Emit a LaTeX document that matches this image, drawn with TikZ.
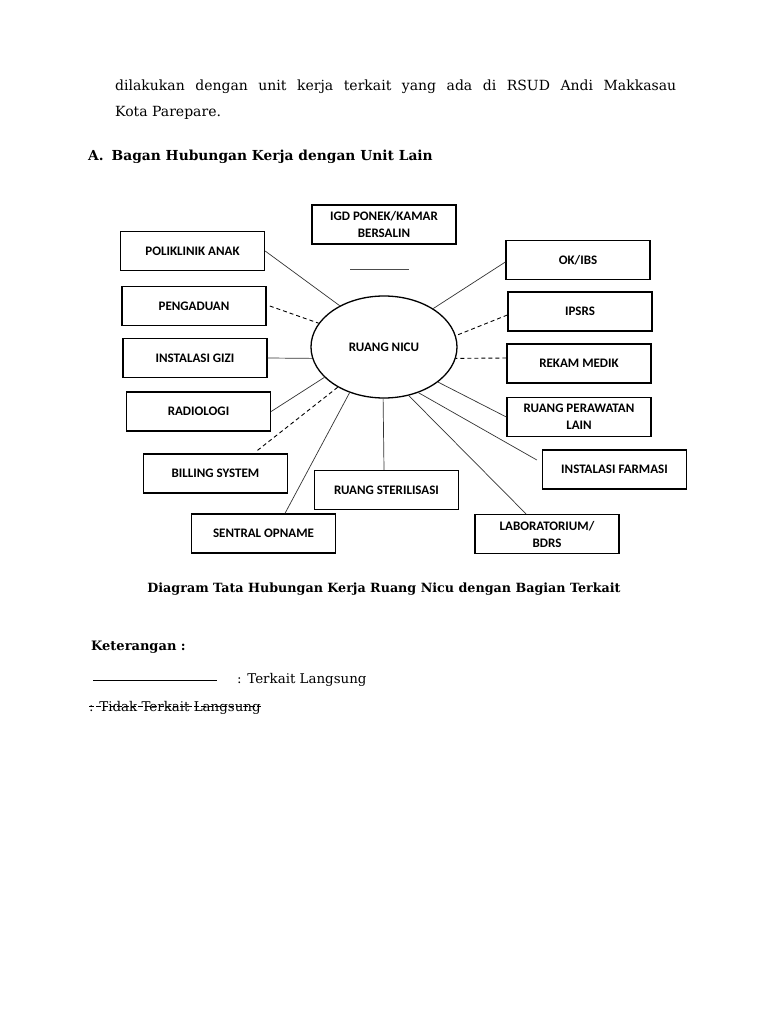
\documentclass[tikz,border=0pt]{standalone}
\usepackage{fontspec}
\setmainfont{DejaVu Serif}
\newfontfamily\boxfont{Carlito}
\usetikzlibrary{shapes.geometric}
\tikzset{
  unitbox/.style={draw, line width=1.3pt, minimum width=144pt, minimum height=39pt, inner sep=0pt, align=center, font=\boxfont\bfseries\fontsize{13}{15}\selectfont},
  solidlink/.style={line width=0.7pt, draw=black!80},
  dashlink/.style={line width=0.9pt, dash pattern=on 4pt off 3pt},
  bodytext/.style={inner sep=0pt, anchor=west, font=\fontsize{14}{17}\selectfont},
  boldtext/.style={inner sep=0pt, font=\bfseries\fontsize{13}{16}\selectfont}
}
\begin{document}
\begin{tikzpicture}[x=1pt, y=-1pt]
\useasboundingbox (0,0) rectangle (768,1024);
\fill[white] (0,0) rectangle (768,1024);

% text above
\node[bodytext] (l1) at (115,87) {\makebox[561pt][s]{dilakukan dengan unit kerja terkait yang ada di RSUD Andi Makkasau}};
\node[bodytext] (l2) at (115,113) {Kota Parepare.};
\node[boldtext, anchor=west, font=\bfseries\fontsize{13.8}{16}\selectfont] (head) at (88,157) {A.\hspace{8pt}Bagan Hubungan Kerja dengan Unit Lain};

% central ellipse
\node[draw, ellipse, line width=1.3pt, minimum width=146pt, minimum height=102pt, inner sep=0pt, font=\boxfont\bfseries\fontsize{13}{15}\selectfont] (nicu) at (384,347) {RUANG NICU};

% boxes
\node[unitbox] (igd) at (384,224.5) {IGD PONEK/KAMAR\\[2pt]BERSALIN};
\node[unitbox] (poli) at (192.5,251) {POLIKLINIK ANAK};
\node[unitbox, line width=1.6pt] (peng) at (194,306) {PENGADUAN};
\node[unitbox] (gizi) at (195,358) {INSTALASI GIZI};
\node[unitbox] (radio) at (198.5,411.5) {RADIOLOGI};
\node[unitbox] (bill) at (215.5,473.5) {BILLING SYSTEM};
\node[unitbox] (sentral) at (263.5,533.5) {SENTRAL OPNAME};
\node[unitbox] (steril) at (386.5,490) {RUANG STERILISASI};
\node[unitbox] (lab) at (547,534) {LABORATORIUM/\\[2pt]BDRS};
\node[unitbox] (farm) at (614.5,469.5) {INSTALASI FARMASI};
\node[unitbox] (rpl) at (579,417) {RUANG PERAWATAN\\[2pt]LAIN};
\node[unitbox] (rekam) at (579,363.5) {REKAM MEDIK};
\node[unitbox] (ipsrs) at (580,311.5) {IPSRS};
\node[unitbox] (ok) at (578,260) {OK/IBS};

% stray short line under IGD
\coordinate (sa) at (350,269);
\coordinate (sb) at (409,269);
\draw[line width=0.9pt, draw=black!70] (sa) -- (sb);

% connectors
\draw[solidlink] (poli.east) -- (nicu.137.7);
\draw[dashlink] ([xshift=3pt]peng.east) -- (nicu.160.6);
\draw[solidlink] (gizi.east) -- (nicu.189.2);
\draw[solidlink] (radio.east) -- (nicu.207);
\draw[dashlink] ([xshift=42pt,yshift=3pt]bill.north) -- (nicu.221.7);
\draw[solidlink] ([xshift=21.5pt]sentral.north) -- (nicu.233.5);
\draw[solidlink] ([xshift=-2.5pt]steril.north) -- (nicu.269);
\draw[solidlink] ([xshift=-21pt]lab.north) -- (nicu.297.5);
\draw[solidlink] ([xshift=-5pt,yshift=9.5pt]farm.west) -- (nicu.307);
\draw[solidlink] (rpl.west) -- (nicu.327);
\draw[dashlink] ([yshift=5.5pt]rekam.west) -- (nicu.351);
\draw[dashlink] ([yshift=-3.5pt]ipsrs.west) -- (nicu.9.6);
\draw[solidlink] ([yshift=-2pt]ok.west) -- (nicu.38.5);

% caption
\node[boldtext, font=\bfseries\fontsize{12.7}{16}\selectfont] (cap) at (384,589) {Diagram Tata Hubungan Kerja Ruang Nicu dengan Bagian Terkait};

% legend
\node[boldtext, anchor=west] (ket) at (91,647) {Keterangan :};
\coordinate (la) at (93,680);
\coordinate (lb) at (217,680);
\draw[line width=0.8pt] (la) -- (lb);
\node[bodytext, font=\fontsize{13.4}{16}\selectfont] (t1) at (237,680) {: Terkait Langsung};
\node[bodytext, font=\fontsize{13.4}{16}\selectfont] (t2) at (89,708) {: Tidak Terkait Langsung};
\draw[line width=0.6pt, dash pattern=on 5pt off 2pt] ([yshift=1.5pt]t2.west) -- ([yshift=1.5pt]t2.east);
\end{tikzpicture}
\end{document}
